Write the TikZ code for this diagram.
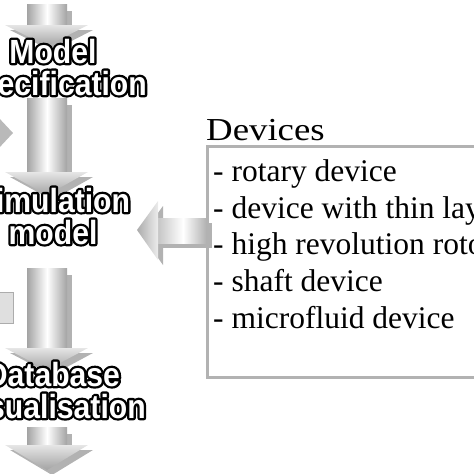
\documentclass[tikz,border=0pt]{standalone}
\usepackage{fontspec}
\setmainfont{Liberation Serif}
\newfontfamily\labelfont[FakeStretch=0.9]{Liberation Sans}
\newcommand\outlinetext[1]{\special{pdf:literal direct q 1 Tr 4.6 w 1 j 0 G}\rlap{#1}\special{pdf:literal direct Q}\textcolor{white}{#1}}
\usetikzlibrary{positioning}

\begin{document}
\begin{tikzpicture}
[x=1pt, y=-1pt, shadowpart/.style={fill=gray!60, draw=none},
shaftpart/.style={left color=gray!72, right color=gray!72, middle color=white, draw=none},
headpart/.style={top color=gray!20, bottom color=gray!72, draw=none},
steplabel/.style={font=\labelfont\bfseries\fontsize{33.5}{34}\selectfont, inner sep=0pt, anchor=base},
devbox/.style={draw=gray!60, line width=2.5pt, fill=none, rectangle, outer sep=0pt, inner sep=0pt},
devitem/.style={font=\fontsize{31.5}{36}\selectfont, inner sep=0pt, anchor=base west}]
\useasboundingbox (0,0) rectangle (474,474);
\clip (0,0) rectangle (474,474);

% Left fragments
\fill[gray!55] (-2,117) -- (13,133) -- (-2,149) -- cycle;
\filldraw[fill=gray!25, draw=gray!65, line width=1pt] (-5,292) rectangle (13,323);

% Block arrows of the left column
\foreach \ys/\yb/\yt in {4/25/46, 98/172/195, 268/348/370, 427/445/470} {
  \fill[shadowpart] (32,\ys+7) rectangle (72,\yb+5);
  \fill[shadowpart] (10,\yb+5) -- (93,\yb+5) -- (52,\yt+5) -- cycle;
  \path[shaftpart] (27,\ys) rectangle (67,\yb);
  \path[headpart] (5,\yb) -- (88,\yb) -- (47,\yt) -- cycle;
}

% Arrow from the device box
\fill[shadowpart] (163,223) rectangle (212,248);
\fill[shadowpart] (163,206) -- (163,265) -- (142,235) -- cycle;
\path[left color=gray!45, right color=gray!65, middle color=white] (158,218) rectangle (208,243);
\path[left color=gray!65, right color=gray!15] (158,201) -- (158,260) -- (137,230) -- cycle;

% Devices box
\node[devbox, anchor=north west, minimum width=300pt, minimum height=231pt] (devbox) at (207.5,146.7) {};
\node[anchor=base west, inner sep=0pt, font=\fontsize{32}{34}\selectfont] (devtitle) at (206,140) {\scalebox{1.15}[1]{Devices}};
\foreach \item [count=\i] in {rotary device, device with thin layer, high revolution rotor, shaft device, microfluid device}
  \node[devitem] (dev\i) at (213,181.7+36.6*\i-36.6) {- \item};

% Step labels
\node[steplabel] (model1) at (53,63) {\outlinetext{Model}};
\node[steplabel] (model2) at (53,95) {\outlinetext{Specification}};
\node[steplabel] (sim1) at (53,212) {\outlinetext{Simulation}};
\node[steplabel] (sim2) at (53,244) {\outlinetext{model}};
\node[steplabel] (db1) at (53,386) {\outlinetext{Database}};
\node[steplabel] (db2) at (53,418) {\outlinetext{Visualisation}};
\end{tikzpicture}
\end{document}
